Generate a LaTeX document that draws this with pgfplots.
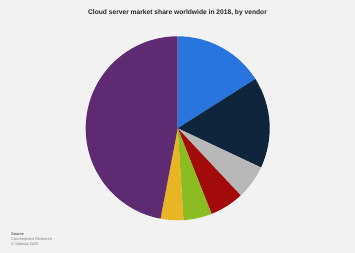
\documentclass[border=0pt]{standalone}
\usepackage{pgfplots}
\pgfplotsset{compat=1.18}
\usepackage{fontspec}
\setmainfont{Liberation Sans}
\definecolor{bg}{HTML}{F2F2F2}
\definecolor{cA}{HTML}{2876DD}
\definecolor{cB}{HTML}{0F253C}
\definecolor{cC}{HTML}{B8B8B8}
\definecolor{cD}{HTML}{A30B0B}
\definecolor{cE}{HTML}{8BBC21}
\definecolor{cF}{HTML}{EAB525}
\definecolor{cG}{HTML}{5E2A71}
\begin{document}
\begin{tikzpicture}[x=1bp,y=1bp]
\fill[bg] (0,0) rectangle (355,253);
\node[font=\fontsize{6.7}{7.2}\selectfont\bfseries, text=black!85] at (177.5,240) {Cloud server market share worldwide in 2018, by vendor};
\node[anchor=north west, font=\fontsize{4}{4.8}\selectfont, align=left, inner sep=0pt] at (11,20)
  {\textcolor{black!80}{Source}\\ \textcolor{black!50}{Counterpoint Research}\\ \textcolor{black!50}{\textcopyright{} Statista 2025}};
\begin{axis}[at={(177.7bp,124.7bp)}, anchor=center, width=184bp, height=184bp, scale only axis,
  xmin=-1, xmax=1, ymin=-1, ymax=1, axis lines=none, clip=false]
\addplot[draw=none] coordinates {(0,0)};
\pgfplotsextra{
  \gdef\cum{0}
  \foreach \v/\c in {16/cA, 16/cB, 6/cC, 6/cD, 5/cE, 4/cF, 47/cG} {
    \pgfmathsetmacro\e{\cum+\v*3.6}
    \fill[\c] (axis cs:0,0) -- ++({90-\cum}:92bp) arc[start angle={90-\cum}, end angle={90-\e}, radius=92bp] -- cycle;
    \xdef\cum{\e}
  }
}
\end{axis}
\end{tikzpicture}
\end{document}
